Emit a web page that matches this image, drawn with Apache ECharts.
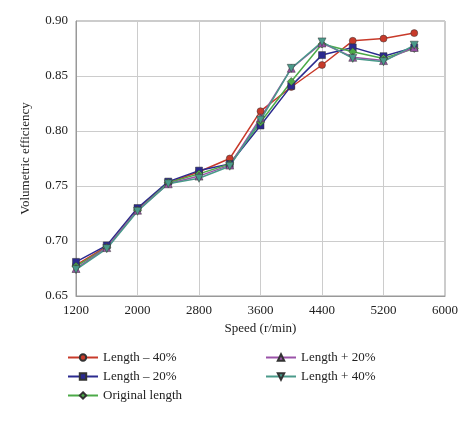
<!DOCTYPE html><html><head><meta charset="utf-8"><script src="https://cdn.jsdelivr.net/npm/echarts@6/dist/echarts.min.js"></script></head><body style="margin:0"><div id="c" style="width:474px;height:435px"></div><script>
const speeds=[1200,1600,2000,2400,2800,3200,3600,4000,4400,4800,5200,5600];
const lenM40=[0.678,0.695,0.729,0.753,0.763,0.775,0.818,0.840,0.860,0.882,0.884,0.889];
const lenM20=[0.681,0.696,0.730,0.754,0.764,0.770,0.805,0.841,0.869,0.876,0.868,0.876];
const lenP20=[0.675,0.694,0.728,0.752,0.759,0.769,0.812,0.857,0.880,0.867,0.864,0.876];
const lenP40=[0.674,0.693,0.727,0.752,0.757,0.768,0.810,0.857,0.881,0.866,0.863,0.878];
const lenOrig=[0.677,0.694,0.728,0.753,0.761,0.770,0.808,0.845,0.879,0.872,0.866,0.875];
const F='Liberation Serif';
function s(name,data,color,symbol,size){return{name,type:'line',data:speeds.map((x,i)=>[x,data[i]]),symbol,symbolSize:size,itemStyle:{color,borderColor:'#333',borderWidth:0.5},lineStyle:{color,width:1.5}};}
const ch=echarts.init(document.getElementById('c'));
ch.setOption({animation:false,textStyle:{fontFamily:F},
grid:{left:76,right:29,top:21,bottom:139,show:true,borderColor:'#999',borderWidth:1},
xAxis:{type:'value',min:1200,max:6000,interval:800,name:'Speed (r/min)',nameLocation:'middle',nameGap:22,nameTextStyle:{fontFamily:F,fontSize:13,color:'#222'},axisLabel:{fontFamily:F,fontSize:13,color:'#222',formatter:v=>String(v)},axisLine:{lineStyle:{color:'#999'}},axisTick:{show:false},splitLine:{lineStyle:{color:'#ccc'}}},
yAxis:{type:'value',min:0.65,max:0.90,interval:0.05,name:'Volumetric efficiency',nameLocation:'middle',nameGap:44,nameTextStyle:{fontFamily:F,fontSize:13,color:'#222'},axisLabel:{fontFamily:F,fontSize:13,color:'#222',formatter:v=>v.toFixed(2)},axisLine:{show:true,lineStyle:{color:'#999'}},axisTick:{show:false},splitLine:{lineStyle:{color:'#ccc'}}},
legend:[{data:['Length – 40%','Length – 20%','Original length'],orient:'vertical',left:62,top:346,itemGap:6,itemWidth:30,itemHeight:8,textStyle:{fontFamily:F,fontSize:13,color:'#222'}},
{data:['Length + 20%','Length + 40%'],orient:'vertical',left:260,top:346,itemGap:6,itemWidth:30,itemHeight:8,textStyle:{fontFamily:F,fontSize:13,color:'#222'}}],
series:[s('Length – 40%',lenM40,'#c83a2a','circle',7),s('Length – 20%',lenM20,'#2b2a8f','rect',7),s('Original length',lenOrig,'#4caa48','diamond',8),s('Length + 20%',lenP20,'#9a52a8','triangle',8),
{...s('Length + 40%',lenP40,'#4a9a8a','triangle',8),symbolRotate:180}]});
</script></body></html>
